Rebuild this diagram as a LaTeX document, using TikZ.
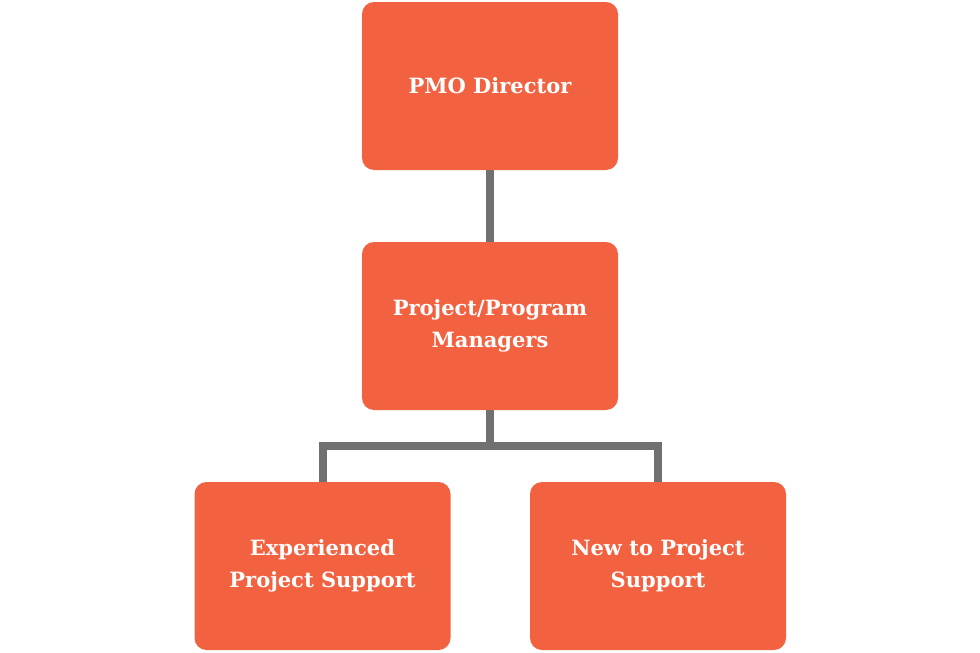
\documentclass[tikz,border=0pt]{standalone}
\usepackage{fontspec}
\setmainfont{DejaVu Serif}
\usetikzlibrary{positioning}
\definecolor{boxorange}{HTML}{F26241}
\definecolor{linkgray}{HTML}{707070}
\tikzset{every picture/.style={line width=0.75pt}}
\tikzset{
  role/.style={fill=boxorange, draw=none, rounded corners=12pt, minimum width=256pt,
    minimum height=168pt, text=white, font=\fontsize{21}{32}\selectfont\bfseries,
    align=center, inner sep=0pt},
  link/.style={draw=linkgray, line width=8pt}
}
\begin{document}
\begin{tikzpicture}[x=1pt,y=-1pt]
\useasboundingbox (0,0) rectangle (980,653);
\node[role] (director) at (490,86) {PMO Director};
\node[role] (managers) at (490,326) {Project/Program\\Managers};
\node[role] (experienced) at (322.5,566) {Experienced\\Project Support};
\node[role] (newsupport) at (658,566) {New to Project\\Support};
%
\coordinate (split) at (490,446);
\draw[link] (director) -- (managers);
\draw[link] (managers) -- (split);
\draw[link] (experienced.north) |- (split) -| (newsupport.north);
\end{tikzpicture}
\end{document}
